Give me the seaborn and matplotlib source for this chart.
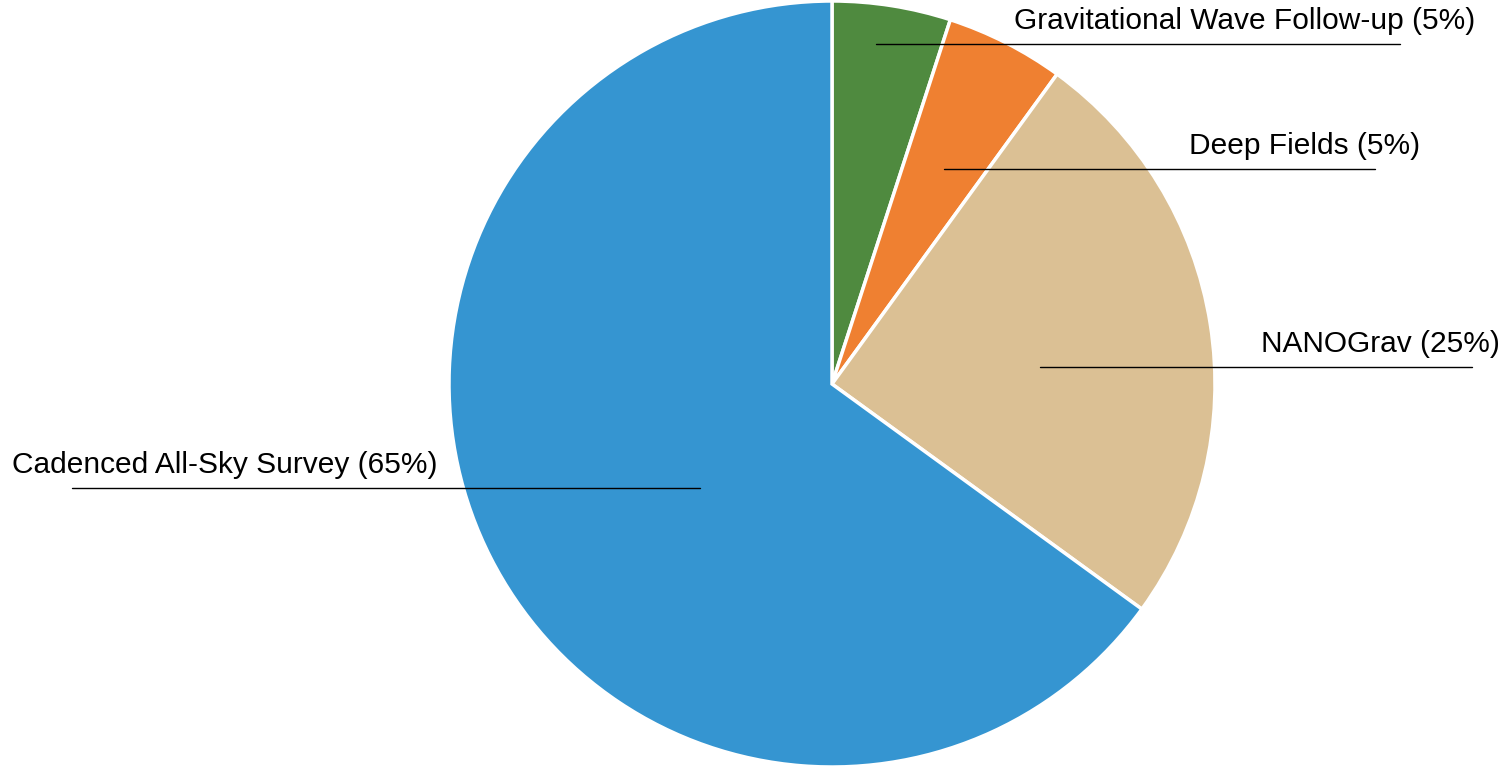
import seaborn as sns
import matplotlib
matplotlib.use('Agg')
from matplotlib import pyplot as plt

sns.set_style('white')
plt.rcParams['font.family'] = ['Liberation Sans', 'DejaVu Sans']

labels = ['Gravitational Wave Follow-up', 'Deep Fields', 'NANOGrav', 'Cadenced All-Sky Survey']
shares = [5, 5, 25, 65]
colors = ['#4f8a3f', '#ef8031', '#dbc094', '#3595d1']

# label layout in pixel coords: (line x0, line x1, line y, text right x)
label_pos = [(876, 1400, 44, 1475),
             (944, 1375, 169, 1420),
             (1040, 1472, 367, 1500),
             (72, 700, 488, 437)]

W, H = 1500, 769
fig = plt.figure(figsize=(15, 7.69), dpi=100)
ax = fig.add_axes([0, 0, 1, 1])
ax.pie(shares, colors=colors, startangle=90, counterclock=False,
       center=(832, H - 384), radius=383,
       wedgeprops=dict(edgecolor='white', linewidth=2.5))
ax.set_xlim(0, W)
ax.set_ylim(0, H)
ax.set_aspect('equal')
ax.axis('off')

for lab, s, (x0, x1, y, xt) in zip(labels, shares, label_pos):
    ax.plot([x0, x1], [H - y, H - y], color='black', lw=1)
    ax.text(xt, H - y + 9, f'{lab} ({s}%)', ha='right', va='bottom',
            fontsize=21.5, color='black')

fig.savefig('out.png', dpi=100)
